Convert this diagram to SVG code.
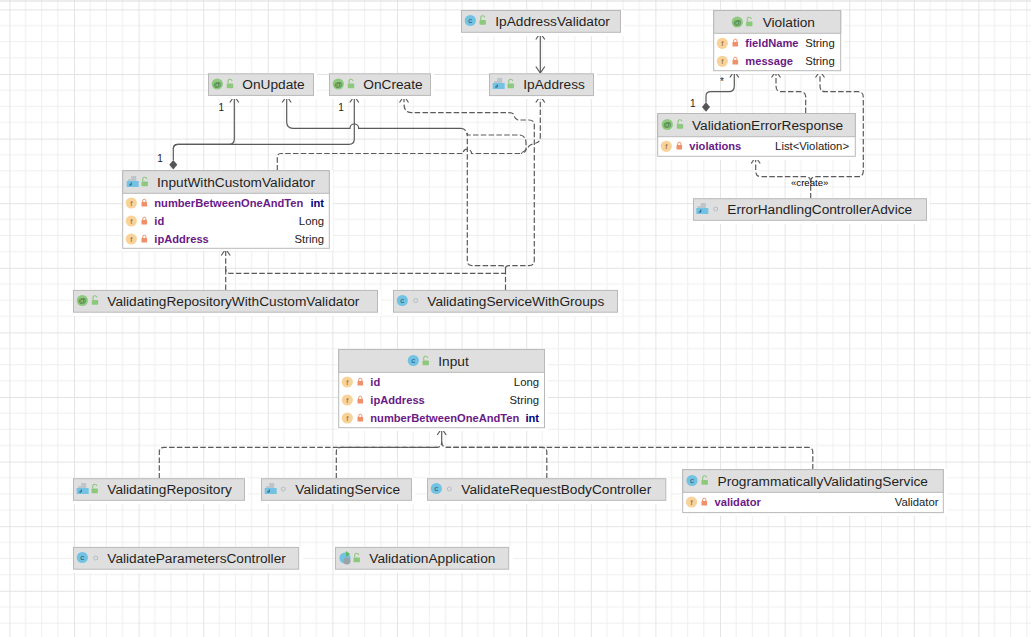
<svg xmlns="http://www.w3.org/2000/svg" width="1031" height="637" viewBox="0 0 1031 637">
<style>
text{font-family:"Liberation Sans",Arial,sans-serif;fill:#1f1f1f}
.t{font-size:13.7px;dominant-baseline:central}
.f{font-size:11.15px;font-weight:bold;fill:#6a1a86;dominant-baseline:central;transform:translateY(-.7px)}
.y{font-size:11.3px;text-anchor:end;fill:#222;dominant-baseline:central;transform:translateY(-.7px)}
.k{font-size:11.15px;font-weight:bold;text-anchor:end;fill:#000080;dominant-baseline:central;transform:translateY(-.7px)}
.m{font-size:10px;fill:#222;text-anchor:middle;dominant-baseline:central}
.box{fill:#fff;stroke:#b9b9b9;stroke-width:1}
.head{fill:#dfdfdf;stroke:#b9b9b9;stroke-width:1}
.halo{fill:#fff}
.s{fill:none;stroke:#5a5a5a;stroke-width:1.2}
.d{fill:none;stroke:#5a5a5a;stroke-width:1.2;stroke-dasharray:5.5 2.3}
.a{fill:none;stroke:#5a5a5a;stroke-width:1.2}
.ic{font-size:8px;text-anchor:middle;dominant-baseline:central}
</style>
<defs>
<pattern id="grid" patternUnits="userSpaceOnUse" x="9.4" y="9.4" width="64.6" height="64.6">
<path d="M16.15 0V64.6M32.3 0V64.6M48.45 0V64.6M0 16.15H64.6M0 32.3H64.6M0 48.45H64.6" stroke="#efefef" stroke-width="1" fill="none"/>
<path d="M0 0V64.6M0 0H64.6" stroke="#e3e3e3" stroke-width="1.8" fill="none"/>
</pattern>
<g id="ic-a"><circle r="5.6" fill="#8fc97f"/><text class="ic" style="fill:#3d6b34">@</text></g>
<g id="ic-c"><circle r="5.6" fill="#72c2e3"/><text class="ic" style="fill:#245a78">c</text></g>
<g id="ic-f"><circle r="5.6" fill="#f8d298"/><text class="ic" style="fill:#8a6a3a">f</text></g>
<g id="ic-i"><rect x="-6" y="-1" width="12" height="6" fill="#72c2e3"/><rect x="-1.5" y="-6" width="5" height="5" fill="#bcc4cc"/><rect x="-4.5" y="-3" width="3" height="2" fill="#bcc4cc"/><path d="M-1.5 0.5V3H-3.5" stroke="#1d4f6b" stroke-width="0.9" fill="none"/></g>
<g id="ic-app"><circle r="5.6" fill="#72c2e3"/><circle cx="2" cy="3" r="3.5" fill="#9aa3a8"/><path d="M1-7 L5-4 L1-1Z" fill="#5cb85c"/></g>
<g id="open"><rect x="-3.2" y="-0.6" width="6.4" height="4.8" rx="0.8" fill="#8cc97c"/><path d="M-2-0.6V-2.4A2 2 0 0 1 2-3" stroke="#8cc97c" stroke-width="1.1" fill="none"/></g>
<g id="lock"><rect x="-2.8" y="-1" width="5.6" height="4.6" rx="0.6" fill="#f0906a"/><path d="M-1.6-1V-2.2A1.6 1.6 0 0 1 1.6-2.2V-1" stroke="#f0906a" stroke-width="1" fill="none"/></g>
<g id="dot"><circle r="2" fill="none" stroke="#b4bec4" stroke-width="1"/></g>
<path id="arrow-up" class="a" d="M-4.5 7L0 0.5L4.5 7"/>
<path id="diamond" d="M0-4.8L4-0L0 4.8L-4 0Z" fill="#555"/>
</defs>

<rect width="1031" height="637" fill="#fff"/>
<rect width="1031" height="637" fill="url(#grid)"/>
<path d="M0 1H1031" stroke="#dcdcdc" stroke-width="1.2"/>

<g id="connectors">
<path class="s" d="M173.3 160V149Q173.3 144.3 178 144.3H229Q234.3 144.3 234.3 139V96"/>
<path class="s" d="M173.3 149Q173.3 144.3 178 144.3H349Q354.3 144.3 354.3 139V96"/>
<path class="s" d="M286.7 96V122Q286.7 128.3 293 128.3H350A4.3 4.3 0 0 1 358.6 128.3H461"/>
<path class="d" d="M461 128.3Q466 128.3 467.3 135H520Q526 136 526 143V149Q526 153 521 153.3"/>
<path class="d" d="M277.3 170.5V157Q277.3 153.5 281 153.5H463A4.3 4.3 0 0 1 471.6 153.5H520Q526 151 529 146Q534 143 536 143Q540.3 142 540.3 136V96"/>
<path class="d" d="M505.5 290V273.3H230Q225.7 273.3 225.7 269V249"/>
<path class="d" d="M225.7 290V269"/>
<path class="d" d="M505.5 273V268Q505.5 266 502 265.7H472Q467.3 265.7 467.3 261V133"/>
<path class="d" d="M505.5 268Q505.5 266 509 265.7H529Q534.3 265.7 534.3 260V125Q534.3 120 529 120H518Q514 118 514 115Q513 112.7 509 112.7H412Q404 112.7 404 104V96"/>
<path class="s" d="M540.3 33V73"/>
<path class="s" d="M706 102.5V96Q706 91.7 711 91.7H729Q734.3 91.7 734.3 86V71"/>
<path class="d" d="M805.7 113V97Q805.7 91.7 800 91.7H781Q776 91.7 776 86V71"/>
<path class="d" d="M810.7 198.5V182"/>
<path class="d" d="M810.7 182Q810.7 177 806 176.7H761Q755.7 176.7 755.7 171V157"/>
<path class="d" d="M810.7 182Q810.7 177 815 176.7H858Q863.3 176.7 863.3 171V97Q863.3 91.7 858 91.7H825Q820 91.7 820 86V71"/>
<path class="d" d="M159.3 478.5V452Q159.3 447.3 164 447.3H437Q441.7 447 441.7 442"/>
<path class="d" d="M336.3 478.5V452Q336.3 447.3 341 447.3H437"/>
<path class="d" d="M546.8 478.5V452Q546.8 447.3 542 447.3H446Q441.7 447 441.7 442"/>
<path class="d" d="M812.8 469.5V452Q812.8 447.3 808 447.3H446"/>
<path class="s" d="M441.7 442V428"/>
<use href="#arrow-up" x="234.3" y="95.5"/>
<use href="#arrow-up" x="286.7" y="95.5"/>
<use href="#arrow-up" x="354.3" y="95.5"/>
<use href="#arrow-up" x="404" y="95.5"/>
<use href="#arrow-up" x="540.3" y="95.5"/>
<use href="#arrow-up" x="540.3" y="32.5"/>
<path class="a" d="M535.8 66.5L540.3 73L544.8 66.5"/>
<use href="#arrow-up" x="225.7" y="248.5"/>
<use href="#arrow-up" x="734.3" y="70.5"/>
<use href="#arrow-up" x="776" y="70.5"/>
<use href="#arrow-up" x="820" y="70.5"/>
<use href="#arrow-up" x="755.7" y="156.5"/>
<use href="#arrow-up" x="441.7" y="428"/>
<use href="#diamond" x="173.3" y="164.8"/>
<use href="#diamond" x="706" y="107"/>
<text class="m" x="221.3" y="107.7">1</text>
<text class="m" x="341" y="107.7">1</text>
<text class="m" x="160" y="158.5">1</text>
<text class="m" x="722" y="81">*</text>
<text class="m" x="692.7" y="103">1</text>
<text class="m" x="809.7" y="182" style="font-size:9.6px;fill:#000">«create»</text>
</g>

<g id="OnUpdate"><rect class="halo" x="208" y="73" width="109" height="26"/><rect class="head" x="208.5" y="73.8" width="105" height="21.6"/><use href="#ic-a" x="217.3" y="84"/><use href="#open" x="230" y="84"/><text class="t" x="242.3" y="84.5">OnUpdate</text></g>
<g id="OnCreate"><rect class="halo" x="329" y="73" width="105" height="26"/><rect class="head" x="329.5" y="73.8" width="101" height="21.6"/><use href="#ic-a" x="338.3" y="84"/><use href="#open" x="351" y="84"/><text class="t" x="363.3" y="84.5">OnCreate</text></g>
<g id="IpAddressValidator"><rect class="halo" x="461" y="10" width="163" height="26"/><rect class="head" x="461.5" y="10.5" width="159" height="21.8"/><use href="#ic-c" x="470.3" y="20.5"/><use href="#open" x="482.7" y="20.5"/><text class="t" x="495.3" y="21.5">IpAddressValidator</text></g>
<g id="IpAddress"><rect class="halo" x="489" y="73" width="108" height="26"/><rect class="head" x="489.5" y="73.8" width="104" height="21.8"/><use href="#ic-i" x="498.7" y="84"/><use href="#open" x="510.7" y="84"/><text class="t" x="523.3" y="84.5">IpAddress</text></g>

<g id="Violation"><rect class="halo" x="713" y="10" width="131" height="64"/><rect class="box" x="713.7" y="10.5" width="127" height="60.2"/><rect class="head" x="713.7" y="10.5" width="127" height="22.8"/><use href="#ic-a" x="737.3" y="22"/><use href="#open" x="749.3" y="22"/><text class="t" x="762.7" y="22.5">Violation</text>
<use href="#ic-f" x="722.3" y="43.3"/><use href="#lock" x="735.3" y="43"/><text class="f" x="745.3" y="43.5">fieldName</text><text class="y" x="834.7" y="43.5">String</text>
<use href="#ic-f" x="722.3" y="61.3"/><use href="#lock" x="735.3" y="61"/><text class="f" x="745.3" y="61.5">message</text><text class="y" x="834.7" y="61.5">String</text></g>

<g id="ValidationErrorResponse"><rect class="halo" x="657" y="113" width="202" height="47"/><rect class="box" x="657.7" y="113.5" width="197.6" height="42.8"/><rect class="head" x="657.7" y="113.5" width="197.6" height="23.2"/><use href="#ic-a" x="667.3" y="124.5"/><use href="#open" x="680" y="124.5"/><text class="t" x="692" y="125.5">ValidationErrorResponse</text>
<use href="#ic-f" x="666.3" y="146.3"/><use href="#lock" x="679.3" y="146"/><text class="f" x="689.3" y="146.5">violations</text><text class="y" x="849" y="146.5">List&lt;Violation&gt;</text></g>

<g id="ErrorHandlingControllerAdvice"><rect class="halo" x="693" y="198" width="237" height="26"/><rect class="head" x="693.5" y="198.7" width="233" height="21.6"/><use href="#ic-i" x="702.3" y="209"/><use href="#dot" x="715.7" y="209"/><text class="t" x="727.3" y="209.5">ErrorHandlingControllerAdvice</text></g>

<g id="InputWithCustomValidator"><rect class="halo" x="122" y="170" width="211" height="81"/><rect class="box" x="122.7" y="170.7" width="206.6" height="77.6"/><rect class="head" x="122.7" y="170.7" width="206.6" height="22.6"/><use href="#ic-i" x="132.7" y="182"/><use href="#open" x="144.7" y="182"/><text class="t" x="157" y="182.5">InputWithCustomValidator</text>
<use href="#ic-f" x="131.3" y="203"/><use href="#lock" x="144.3" y="203"/><text class="f" x="154.3" y="203.5">numberBetweenOneAndTen</text><text class="k" x="324" y="203.5">int</text>
<use href="#ic-f" x="131.3" y="221"/><use href="#lock" x="144.3" y="221"/><text class="f" x="154.3" y="221.5">id</text><text class="y" x="324" y="221.5">Long</text>
<use href="#ic-f" x="131.3" y="239"/><use href="#lock" x="144.3" y="239"/><text class="f" x="154.3" y="239.5">ipAddress</text><text class="y" x="324" y="239.5">String</text></g>

<g id="ValidatingRepositoryWithCustomValidator"><rect class="halo" x="73" y="290" width="308" height="26"/><rect class="head" x="73.5" y="290.4" width="304" height="21.8"/><use href="#ic-a" x="82.3" y="300.5"/><use href="#open" x="95" y="300.5"/><text class="t" x="107.3" y="301.5">ValidatingRepositoryWithCustomValidator</text></g>
<g id="ValidatingServiceWithGroups"><rect class="halo" x="393" y="290" width="228" height="26"/><rect class="head" x="393.5" y="290.4" width="224" height="21.8"/><use href="#ic-c" x="402.3" y="300.5"/><use href="#dot" x="415.7" y="300.5"/><text class="t" x="427.3" y="301.5">ValidatingServiceWithGroups</text></g>

<g id="Input"><rect class="halo" x="338" y="349" width="210" height="82"/><rect class="box" x="338.7" y="349.5" width="205.8" height="78.2"/><rect class="head" x="338.7" y="349.5" width="205.8" height="22.8"/><use href="#ic-c" x="413.3" y="360.5"/><use href="#open" x="425.7" y="361"/><text class="t" x="438.3" y="361.5">Input</text>
<use href="#ic-f" x="347.3" y="382"/><use href="#lock" x="360.3" y="382"/><text class="f" x="370.3" y="382.5">id</text><text class="y" x="539" y="382.5">Long</text>
<use href="#ic-f" x="347.3" y="400"/><use href="#lock" x="360.3" y="400"/><text class="f" x="370.3" y="400.5">ipAddress</text><text class="y" x="539" y="400.5">String</text>
<use href="#ic-f" x="347.3" y="418"/><use href="#lock" x="360.3" y="418"/><text class="f" x="370.3" y="418.5">numberBetweenOneAndTen</text><text class="k" x="539" y="418.5">int</text></g>

<g id="ValidatingRepository"><rect class="halo" x="73" y="478" width="175" height="26"/><rect class="head" x="73.5" y="478.7" width="171" height="21.6"/><use href="#ic-i" x="82.7" y="489"/><use href="#open" x="94.7" y="489"/><text class="t" x="107.3" y="489.5">ValidatingRepository</text></g>
<g id="ValidatingService"><rect class="halo" x="261" y="478" width="154" height="26"/><rect class="head" x="261.5" y="478.7" width="150" height="21.6"/><use href="#ic-i" x="270.7" y="489"/><use href="#dot" x="283.3" y="489"/><text class="t" x="295.3" y="489.5">ValidatingService</text></g>
<g id="ValidateRequestBodyController"><rect class="halo" x="427" y="478" width="243" height="26"/><rect class="head" x="427.5" y="478.7" width="238.3" height="21.6"/><use href="#ic-c" x="436.3" y="488.5"/><use href="#dot" x="449.3" y="489"/><text class="t" x="461.3" y="489.5">ValidateRequestBodyController</text></g>
<g id="ProgrammaticallyValidatingService"><rect class="halo" x="682" y="469" width="265" height="47"/><rect class="box" x="682.7" y="469.6" width="260.6" height="43"/><rect class="head" x="682.7" y="469.6" width="260.6" height="22.7"/><use href="#ic-c" x="692" y="480.5"/><use href="#open" x="704.7" y="480.5"/><text class="t" x="717.5" y="481.5">ProgrammaticallyValidatingService</text>
<use href="#ic-f" x="691.5" y="502"/><use href="#lock" x="704.3" y="502"/><text class="f" x="714.5" y="502.5">validator</text><text class="y" x="938.5" y="502.5">Validator</text></g>

<g id="ValidateParametersController"><rect class="halo" x="73" y="547" width="230" height="26"/><rect class="head" x="73.5" y="547.4" width="225.2" height="21.8"/><use href="#ic-c" x="82.3" y="557.5"/><use href="#dot" x="95.7" y="558"/><text class="t" x="107.3" y="558.5">ValidateParametersController</text></g>
<g id="ValidationApplication"><rect class="halo" x="335" y="547" width="178" height="26"/><rect class="head" x="335.5" y="547.4" width="173.2" height="21.8"/><use href="#ic-app" x="345" y="558"/><use href="#open" x="356.7" y="558"/><text class="t" x="369.3" y="558.5">ValidationApplication</text></g>
</svg>
